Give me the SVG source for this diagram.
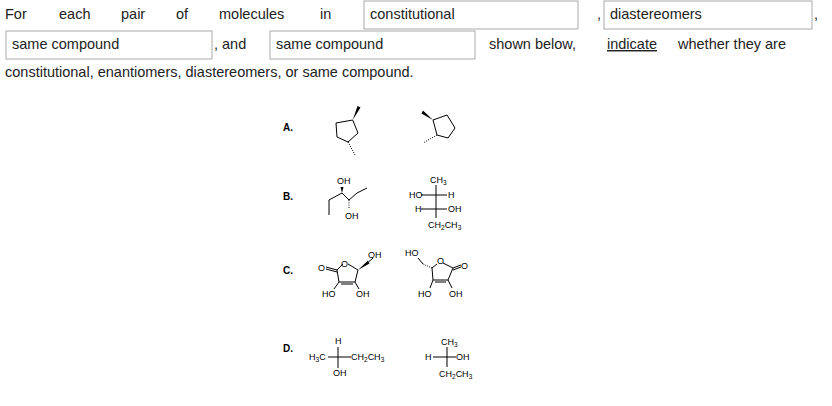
<svg xmlns="http://www.w3.org/2000/svg" width="832" height="406" viewBox="0 0 832 406">
<style>
.t{font-family:"Liberation Sans",Arial,sans-serif;font-size:14.5px;fill:#222}
.bx{fill:#fff;stroke:#aaa;stroke-width:1}
.lb{font-family:"Liberation Sans",Arial,sans-serif;font-size:10px;font-weight:bold;fill:#000}
.c{font-family:"Liberation Sans",Arial,sans-serif;font-size:9px;fill:#000}
.s{font-size:6.5px}
.b{fill:none;stroke:#000;stroke-width:1}
.h{stroke:#000;stroke-width:1;stroke-dasharray:1 1.3}
</style>
<rect width="832" height="406" fill="#fff"/>
<g id="question">
<text class="t" x="5" y="19">For</text><text class="t" x="59" y="19">each</text><text class="t" x="121" y="19">pair</text><text class="t" x="176" y="19">of</text><text class="t" x="219" y="19">molecules</text><text class="t" x="320" y="19">in</text>
<rect class="bx" x="364" y="1" width="214" height="28"/><text class="t" x="370" y="19">constitutional</text>
<text class="t" x="597" y="19">,</text>
<rect class="bx" x="604" y="1" width="208" height="28"/><text class="t" x="610" y="19">diastereomers</text>
<text class="t" x="814" y="19">,</text>
<rect class="bx" x="6" y="31" width="206" height="28"/><text class="t" x="12" y="49">same compound</text>
<text class="t" x="214" y="49">, and</text>
<rect class="bx" x="270" y="31" width="205" height="28"/><text class="t" x="276" y="49">same compound</text>
<text class="t" x="489" y="49">shown below,</text>
<text class="t" x="607" y="49" text-decoration="underline">indicate</text>
<text class="t" x="678" y="49">whether they are</text>
<text class="t" x="5" y="77">constitutional, enantiomers, diastereomers, or same compound.</text>
</g>
<g id="labels">
<text class="lb" x="283" y="131">A.</text><text class="lb" x="283" y="200">B.</text><text class="lb" x="283" y="274">C.</text><text class="lb" x="283" y="352">D.</text>
</g>
<g id="molA1">
<polygon class="b" points="352.7,120 358,133 348,142 337,137 336,123"/>
<polygon points="352.7,120 357.5,106 360.5,107.5" fill="#000"/>
<line class="h" x1="348" y1="142" x2="355" y2="155"/>
</g>
<g id="molA2">
<polygon class="b" points="433,120 447,115 455,128 448,138 437,135"/>
<polygon points="433,120 421.5,113.5 423,110.5" fill="#000"/>
<line class="h" x1="437" y1="135" x2="423" y2="143"/>
</g>
<g id="molB1">
<polyline class="b" points="329,215 329,200 342,193 349,200 357,193 367,188"/>
<polygon points="342,193 340.5,187 343.5,187" fill="#000"/>
<text class="c" x="337" y="184">OH</text>
<line class="h" x1="349" y1="200" x2="349" y2="209"/>
<text class="c" x="345" y="219">OH</text>
</g>
<g id="molB2">
<text class="c" x="430" y="183">CH<tspan class="s" dy="2">3</tspan></text>
<line class="b" x1="436" y1="185" x2="436" y2="218"/>
<line class="b" x1="421" y1="195" x2="447" y2="195"/>
<line class="b" x1="421" y1="209" x2="447" y2="209"/>
<text class="c" x="409" y="198">HO</text><text class="c" x="448" y="198">H</text>
<text class="c" x="415" y="212">H</text><text class="c" x="448" y="212">OH</text>
<text class="c" x="428" y="228">CH<tspan class="s" dy="2">2</tspan><tspan dy="-2">CH</tspan><tspan class="s" dy="2">3</tspan></text>
</g>
<g id="molC1">
<polyline class="b" points="343,264 337,270 339,282 355,282 358,270 348,264"/>
<line class="b" x1="341" y1="284" x2="353" y2="284"/>
<line class="b" x1="337" y1="270" x2="326" y2="267"/>
<line class="b" x1="337" y1="272" x2="326" y2="269"/>
<text class="c" x="318" y="271">O</text>
<text class="c" x="341" y="267">O</text>
<polygon points="358,270 368,260.5 369.5,263.5" fill="#000"/>
<line class="b" x1="368.5" y1="262" x2="373" y2="258"/>
<text class="c" x="368" y="258">OH</text>
<line class="b" x1="339" y1="282" x2="334" y2="289"/>
<line class="b" x1="355" y1="282" x2="359" y2="289"/>
<text class="c" x="322" y="297">HO</text><text class="c" x="356" y="297">OH</text>
</g>
<g id="molC2">
<polyline class="b" points="437,264 432,268 433,280 448,280 453,268 443,263"/>
<line class="b" x1="435" y1="282" x2="446" y2="282"/>
<line class="b" x1="453" y1="268" x2="461" y2="265"/>
<line class="b" x1="453" y1="270" x2="461" y2="267"/>
<text class="c" x="461" y="269">O</text>
<text class="c" x="437" y="264">O</text>
<line class="h" x1="432" y1="268" x2="423" y2="264"/>
<line class="b" x1="423" y1="264" x2="418" y2="258"/>
<text class="c" x="405" y="256">HO</text>
<line class="b" x1="433" y1="280" x2="430" y2="288"/>
<line class="b" x1="448" y1="280" x2="452" y2="288"/>
<text class="c" x="418" y="297">HO</text><text class="c" x="449" y="297">OH</text>
</g>
<g id="molD1">
<text class="c" x="335" y="344">H</text>
<line class="b" x1="338" y1="347" x2="338" y2="368"/>
<line class="b" x1="328" y1="357" x2="351" y2="357"/>
<text class="c" x="309" y="360">H<tspan class="s" dy="2">3</tspan><tspan dy="-2">C</tspan></text>
<text class="c" x="351" y="360">CH<tspan class="s" dy="2">2</tspan><tspan dy="-2">CH</tspan><tspan class="s" dy="2">3</tspan></text>
<text class="c" x="333" y="376">OH</text>
</g>
<g id="molD2">
<text class="c" x="441" y="345">CH<tspan class="s" dy="2">3</tspan></text>
<line class="b" x1="447" y1="347" x2="447" y2="367"/>
<line class="b" x1="433" y1="357" x2="456" y2="357"/>
<text class="c" x="425" y="360">H</text><text class="c" x="456" y="360">OH</text>
<text class="c" x="439" y="377">CH<tspan class="s" dy="2">2</tspan><tspan dy="-2">CH</tspan><tspan class="s" dy="2">3</tspan></text>
</g>
</svg>
